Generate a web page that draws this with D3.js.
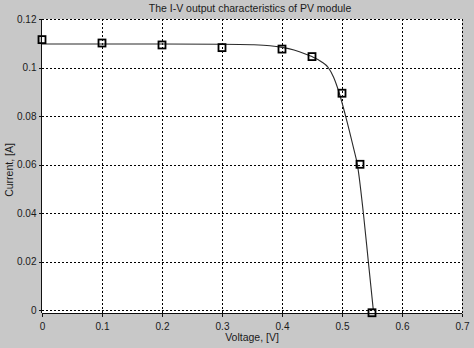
<!DOCTYPE html>
<html>
<head>
<meta charset="utf-8">
<script src="https://cdn.jsdelivr.net/npm/d3@7/dist/d3.min.js"></script>
<style>
html,body{margin:0;padding:0;background:#c8c8c8;}
svg{display:block;}
text{font-family:"Liberation Sans",Arial,sans-serif;fill:#1a1a1a;}
</style>
</head>
<body>
<script>
// Measured points (markers)
const markerVoltage = [0, 0.1, 0.2, 0.3, 0.4, 0.45, 0.5, 0.53, 0.55];
const markerCurrent = [0.1115, 0.1101, 0.1093, 0.1082, 0.1076, 0.1045, 0.0894, 0.0601, -0.0011];
// Model curve
const curveVoltage = [0, 0.1, 0.2, 0.3, 0.35, 0.38, 0.4, 0.42, 0.44, 0.45, 0.465, 0.477, 0.486, 0.4955, 0.506, 0.52, 0.5256, 0.5356, 0.5439, 0.5522];
const curveCurrent = [0.1097, 0.1097, 0.1097, 0.1096, 0.1094, 0.1090, 0.1083, 0.1072, 0.1055, 0.1045, 0.1025, 0.1000, 0.0960, 0.0894, 0.0800, 0.0660, 0.0600, 0.0400, 0.0200, 0.0000];
const xTicks = [0, 0.1, 0.2, 0.3, 0.4, 0.5, 0.6, 0.7];
const yTicks = [0, 0.02, 0.04, 0.06, 0.08, 0.1, 0.12];
const titleText = "The I-V output characteristics of PV module";
const xLabel = "Voltage, [V]";
const yLabel = "Current, [A]";

const W = 474, H = 348;
const pL = 42, pR = 462, pT = 19, pB = 313;

const svg = d3.select("body").append("svg").attr("width", W).attr("height", H);
svg.append("rect").attr("width", W).attr("height", H).attr("fill", "#c8c8c8");

const x = d3.scaleLinear().domain([0, 0.7]).range([pL, pR]);
const y = d3.scaleLinear().domain([-0.0012, 0.12]).range([pB, pT]);

svg.append("rect").attr("x", pL).attr("y", pT).attr("width", pR - pL).attr("height", pB - pT).attr("fill", "#fff");

// grid
const grid = svg.append("g").attr("stroke", "#000").attr("stroke-width", 1).attr("stroke-dasharray", "2,2").attr("shape-rendering", "crispEdges");
grid.selectAll("line.v").data(xTicks.filter(d => d > 0)).join("line")
  .attr("x1", d => Math.round(x(d)) + 0.5).attr("x2", d => Math.round(x(d)) + 0.5)
  .attr("y1", pT).attr("y2", pB);
grid.selectAll("line.h").data(yTicks).join("line")
  .attr("y1", d => Math.round(y(d)) + 0.5).attr("y2", d => Math.round(y(d)) + 0.5)
  .attr("x1", pL).attr("x2", pR);

// axes
const fmt = d => String(+d.toFixed(2));
const xAxis = d3.axisBottom(x).tickValues(xTicks).tickSize(3).tickPadding(6).tickFormat(fmt);
const yAxis = d3.axisLeft(y).tickValues(yTicks).tickSize(3).tickPadding(2).tickFormat(fmt);
const gx = svg.append("g").attr("transform", `translate(0,${pB + 0.5})`).call(xAxis);
const gy = svg.append("g").attr("transform", `translate(${pL - 0.5},0)`).call(yAxis);
[gx, gy].forEach(g => {
  g.select(".domain").attr("stroke", "#111").attr("stroke-width", 1).attr("shape-rendering", "crispEdges");
  g.selectAll(".tick line").attr("stroke", "#111").attr("shape-rendering", "crispEdges");
  g.selectAll(".tick text").style("font-size", "10px").attr("fill", "#1a1a1a").style("font-family", "Liberation Sans, Arial, sans-serif");
});
gx.select(".domain").attr("d", `M${pL},0H${pR}`);
gy.select(".domain").attr("d", `M0,${pT}V${pB}`);

// curve
const curvePts = curveVoltage.map((v, i) => [v, curveCurrent[i]]);
svg.append("path").datum(curvePts)
  .attr("fill", "none").attr("stroke", "#2a2a2a").attr("stroke-width", 1.1)
  .attr("d", d3.line().x(d => x(d[0])).y(d => y(d[1])).curve(d3.curveMonotoneX));

// markers
const mk = markerVoltage.map((v, i) => [v, markerCurrent[i]]);
svg.append("g").selectAll("rect").data(mk).join("rect")
  .attr("x", d => x(d[0]) - 3.5).attr("y", d => y(d[1]) - 3.5)
  .attr("width", 7).attr("height", 7)
  .attr("fill", "none").attr("stroke", "#000").attr("stroke-width", 1.8);

// labels
svg.append("text").attr("x", 250).attr("y", 12).attr("text-anchor", "middle").style("font-size", "10.5px").text(titleText);
svg.append("text").attr("x", 252).attr("y", 341).attr("text-anchor", "middle").style("font-size", "10.5px").text(xLabel);
svg.append("text").attr("transform", "translate(13,170) rotate(-90)").attr("text-anchor", "middle").style("font-size", "10.5px").text(yLabel);
</script>
</body>
</html>
